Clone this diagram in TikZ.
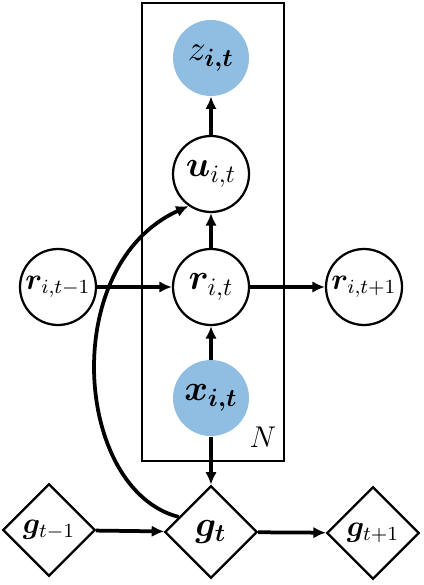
\documentclass[tikz,border=0pt]{standalone}
\usepackage{amsmath,bm}
\usetikzlibrary{shapes.geometric,arrows.meta}
\definecolor{obsblue}{RGB}{143,190,226}
\tikzset{
  latent/.style={circle,draw,line width=0.9pt,minimum size=30.4pt,inner sep=0pt},
  obs/.style={circle,fill=obsblue,minimum size=30.4pt,inner sep=0pt},
  glob/.style={diamond,draw,line width=0.9pt,minimum width=37pt,minimum height=37pt,inner sep=0pt},
  arr/.style={-{Latex[length=5pt,width=4.6pt]},line width=1.5pt},
}
\begin{document}
\begin{tikzpicture}[x=0.4pt,y=-0.4pt,font=\Large]
    \useasboundingbox (0,0) rectangle (423,585);

    % 盘子
    \draw[line width=0.8pt] (142,3) rectangle (284,461);
    \node (plate) at (263,437) {\large $N$};

    % 节点
    \node[obs] (z) at (211,58) {$z_{\bm{i,t}}$};
    \node[latent] (u) at (211,174) {$\bm{u}_{i,t}$};
    \node[latent] (r) at (211,287) {$\bm{r}_{i,t}$};
    \node[latent,font=\large] (rm) at (58,287) {$\bm{r}_{i,t-1}$};
    \node[latent,font=\large] (rp) at (364,287) {$\bm{r}_{i,t+1}$};
    \node[obs] (x) at (211,398) {$\bm{x_{i,t}}$};

    % 全局节点
    \node[glob] (g) at (211,532) {$\bm{g_t}$};
    \node[glob,font=\large] (gm) at (49,530) {$\bm{g}_{t-1}$};
    \node[glob,font=\large] (gp) at (373,533) {$\bm{g}_{t+1}$};

    % 箭头
    \draw[arr] (u) -- (z);
    \draw[arr] (r) -- (u);
    \draw[arr] (x) -- (r);
    \draw[arr] (rm) -- (r);
    \draw[arr] (r) -- (rp);
    \draw[arr] (x) -- (g);
    \draw[arr] (gm) -- (g);
    \draw[arr] (g) -- (gp);
    \draw[arr] (g.155) .. controls (74,490) and (58,265) .. (u.235);

\end{tikzpicture}
\end{document}
